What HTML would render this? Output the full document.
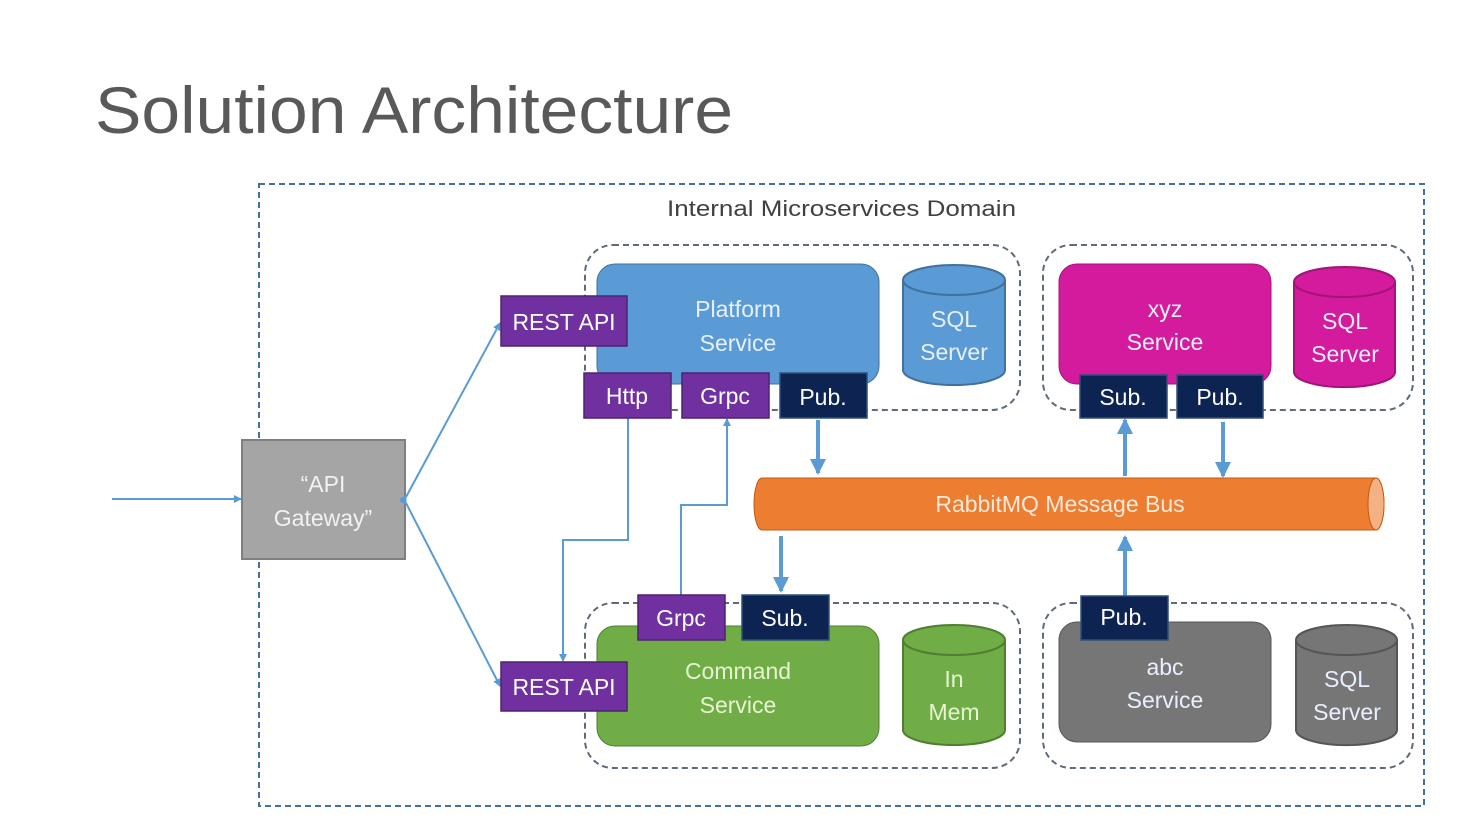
<!DOCTYPE html>
<html><head><meta charset="utf-8"><style>
body{margin:0;background:#fff;}
svg{display:block;font-family:"Liberation Sans",sans-serif;}
</style></head><body>
<svg width="1475" height="823" viewBox="0 0 1475 823" xmlns="http://www.w3.org/2000/svg">
<defs>
<marker id="a" markerWidth="8" markerHeight="8" refX="7" refY="4" orient="auto" markerUnits="userSpaceOnUse"><path d="M0,0 L8,4 L0,8 z" fill="#5b9bd5"/></marker>
<marker id="b" markerWidth="16" markerHeight="16" refX="14" refY="8" orient="auto" markerUnits="userSpaceOnUse"><path d="M0,0 L16,8 L0,16 z" fill="#5b9bd5"/></marker>
</defs>
<text x="95" y="133" font-size="66" fill="#595959" textLength="638" lengthAdjust="spacingAndGlyphs">Solution Architecture</text>
<rect x="259" y="184" width="1165" height="622" fill="none" stroke="#41719c" stroke-width="2" stroke-dasharray="6,4"/>
<text x="667" y="216" font-size="22" fill="#404040" textLength="349" lengthAdjust="spacingAndGlyphs">Internal Microservices Domain</text>
<g fill="none" stroke="#5f6b7a" stroke-width="2" stroke-dasharray="6,4">
<rect x="585" y="245" width="435" height="165" rx="28"/>
<rect x="1043" y="245" width="370" height="165" rx="28"/>
<rect x="585" y="603" width="435" height="165" rx="28"/>
<rect x="1043" y="603" width="370" height="165" rx="28"/>
</g>
<rect x="597" y="264" width="282" height="120" rx="18" fill="#5b9bd5" stroke="#41719c"/>
<rect x="1059" y="264" width="212" height="120" rx="18" fill="#d41b9e" stroke="#a0157a"/>
<rect x="597" y="626" width="282" height="120" rx="18" fill="#70ad47" stroke="#507e32"/>
<rect x="1059" y="622" width="212" height="120" rx="18" fill="#767676" stroke="#555"/>
<g font-size="23" fill="#e8f0ff" text-anchor="middle">
<text x="738" y="317">Platform</text><text x="738" y="351">Service</text>
<text x="1165" y="317">xyz</text><text x="1165" y="350">Service</text>
<text x="738" y="679" fill="#e6f5d0">Command</text><text x="738" y="713" fill="#e6f5d0">Service</text>
<text x="1165" y="675">abc</text><text x="1165" y="708">Service</text>
</g>
<g stroke-width="2">
<path d="M903,280 v90 a51,15 0 0 0 102,0 v-90" fill="#5b9bd5" stroke="#41719c"/><ellipse cx="954" cy="280" rx="51" ry="15" fill="#5b9bd5" stroke="#41719c"/>
<path d="M1294,282 v90 a50,15 0 0 0 101,0 v-90" fill="#d41b9e" stroke="#a0157a"/><ellipse cx="1344.5" cy="282" rx="50.5" ry="15" fill="#d41b9e" stroke="#a0157a"/>
<path d="M903,640 v90 a51,15 0 0 0 102,0 v-90" fill="#70ad47" stroke="#507e32"/><ellipse cx="954" cy="640" rx="51" ry="15" fill="#70ad47" stroke="#507e32"/>
<path d="M1296,640 v90 a50,15 0 0 0 101,0 v-90" fill="#767676" stroke="#555"/><ellipse cx="1346.5" cy="640" rx="50.5" ry="15" fill="#767676" stroke="#555"/>
</g>
<g font-size="23" fill="#e8f0ff" text-anchor="middle">
<text x="954" y="327">SQL</text><text x="954" y="360">Server</text>
<text x="1345" y="329">SQL</text><text x="1345" y="362">Server</text>
<text x="954" y="687" fill="#e6f5d0">In</text><text x="954" y="720" fill="#e6f5d0">Mem</text>
<text x="1347" y="687">SQL</text><text x="1347" y="720">Server</text>
</g>
<path d="M762,478 H1376 a8,26 0 0 1 0,52 H762 a8,26 0 0 1 0,-52 z" fill="#ed7d31" stroke="#c55a11"/>
<ellipse cx="1376" cy="504" rx="8" ry="26" fill="#f4b183" stroke="#c55a11"/>
<text x="1060" y="512" font-size="23" fill="#fde9d9" text-anchor="middle">RabbitMQ Message Bus</text>
<rect x="242" y="440" width="163" height="119" fill="#a5a5a5" stroke="#7f7f7f" stroke-width="2"/>
<text x="323" y="492" font-size="23" fill="#f2f2f2" text-anchor="middle">“API</text>
<text x="323" y="526" font-size="23" fill="#f2f2f2" text-anchor="middle">Gateway”</text>
<g stroke="#5b9bd5" stroke-width="2" fill="none">
<line x1="112" y1="499" x2="241" y2="499" marker-end="url(#a)"/>
<line x1="406" y1="497" x2="500" y2="323" marker-end="url(#a)" marker-start="url(#a)"/>
<line x1="406" y1="503" x2="500" y2="686" marker-end="url(#a)" marker-start="url(#a)"/>
<polyline points="628,418 628,540 563,540 563,661" marker-end="url(#a)"/>
<polyline points="681,595 681,505 727,505 727,419" marker-end="url(#a)"/>
</g>
<g stroke="#5b9bd5" stroke-width="4" fill="none">
<line x1="818" y1="420" x2="818" y2="473" marker-end="url(#b)"/>
<line x1="1125" y1="476" x2="1125" y2="420" marker-end="url(#b)"/>
<line x1="1223" y1="422" x2="1223" y2="476" marker-end="url(#b)"/>
<line x1="781" y1="536" x2="781" y2="591" marker-end="url(#b)"/>
<line x1="1125" y1="597" x2="1125" y2="537" marker-end="url(#b)"/>
</g>
<g stroke-width="1.5">
<rect x="501" y="296" width="126" height="50" fill="#7030a0" stroke="#4e2270"/>
<rect x="501" y="662" width="126" height="49" fill="#7030a0" stroke="#4e2270"/>
<rect x="584" y="373" width="87" height="45" fill="#7030a0" stroke="#4e2270"/>
<rect x="682" y="373" width="87" height="45" fill="#7030a0" stroke="#4e2270"/>
<rect x="780" y="373" width="87" height="45" fill="#0d2352" stroke="#2f4f7f"/>
<rect x="1080" y="375" width="87" height="43" fill="#0d2352" stroke="#2f4f7f"/>
<rect x="1177" y="375" width="86" height="43" fill="#0d2352" stroke="#2f4f7f"/>
<rect x="638" y="595" width="87" height="45" fill="#7030a0" stroke="#4e2270"/>
<rect x="742" y="595" width="87" height="45" fill="#0d2352" stroke="#2f4f7f"/>
<rect x="1081" y="596" width="87" height="44" fill="#0d2352" stroke="#2f4f7f"/>
</g>
<g font-size="23" fill="#fff" text-anchor="middle">
<text x="564" y="330">REST API</text>
<text x="564" y="695">REST API</text>
<text x="627" y="404">Http</text>
<text x="725" y="404">Grpc</text>
<text x="823" y="405">Pub.</text>
<text x="1123" y="405">Sub.</text>
<text x="1220" y="405">Pub.</text>
<text x="681" y="626">Grpc</text>
<text x="785" y="626">Sub.</text>
<text x="1124" y="625">Pub.</text>
</g>
</svg>
</body></html>
